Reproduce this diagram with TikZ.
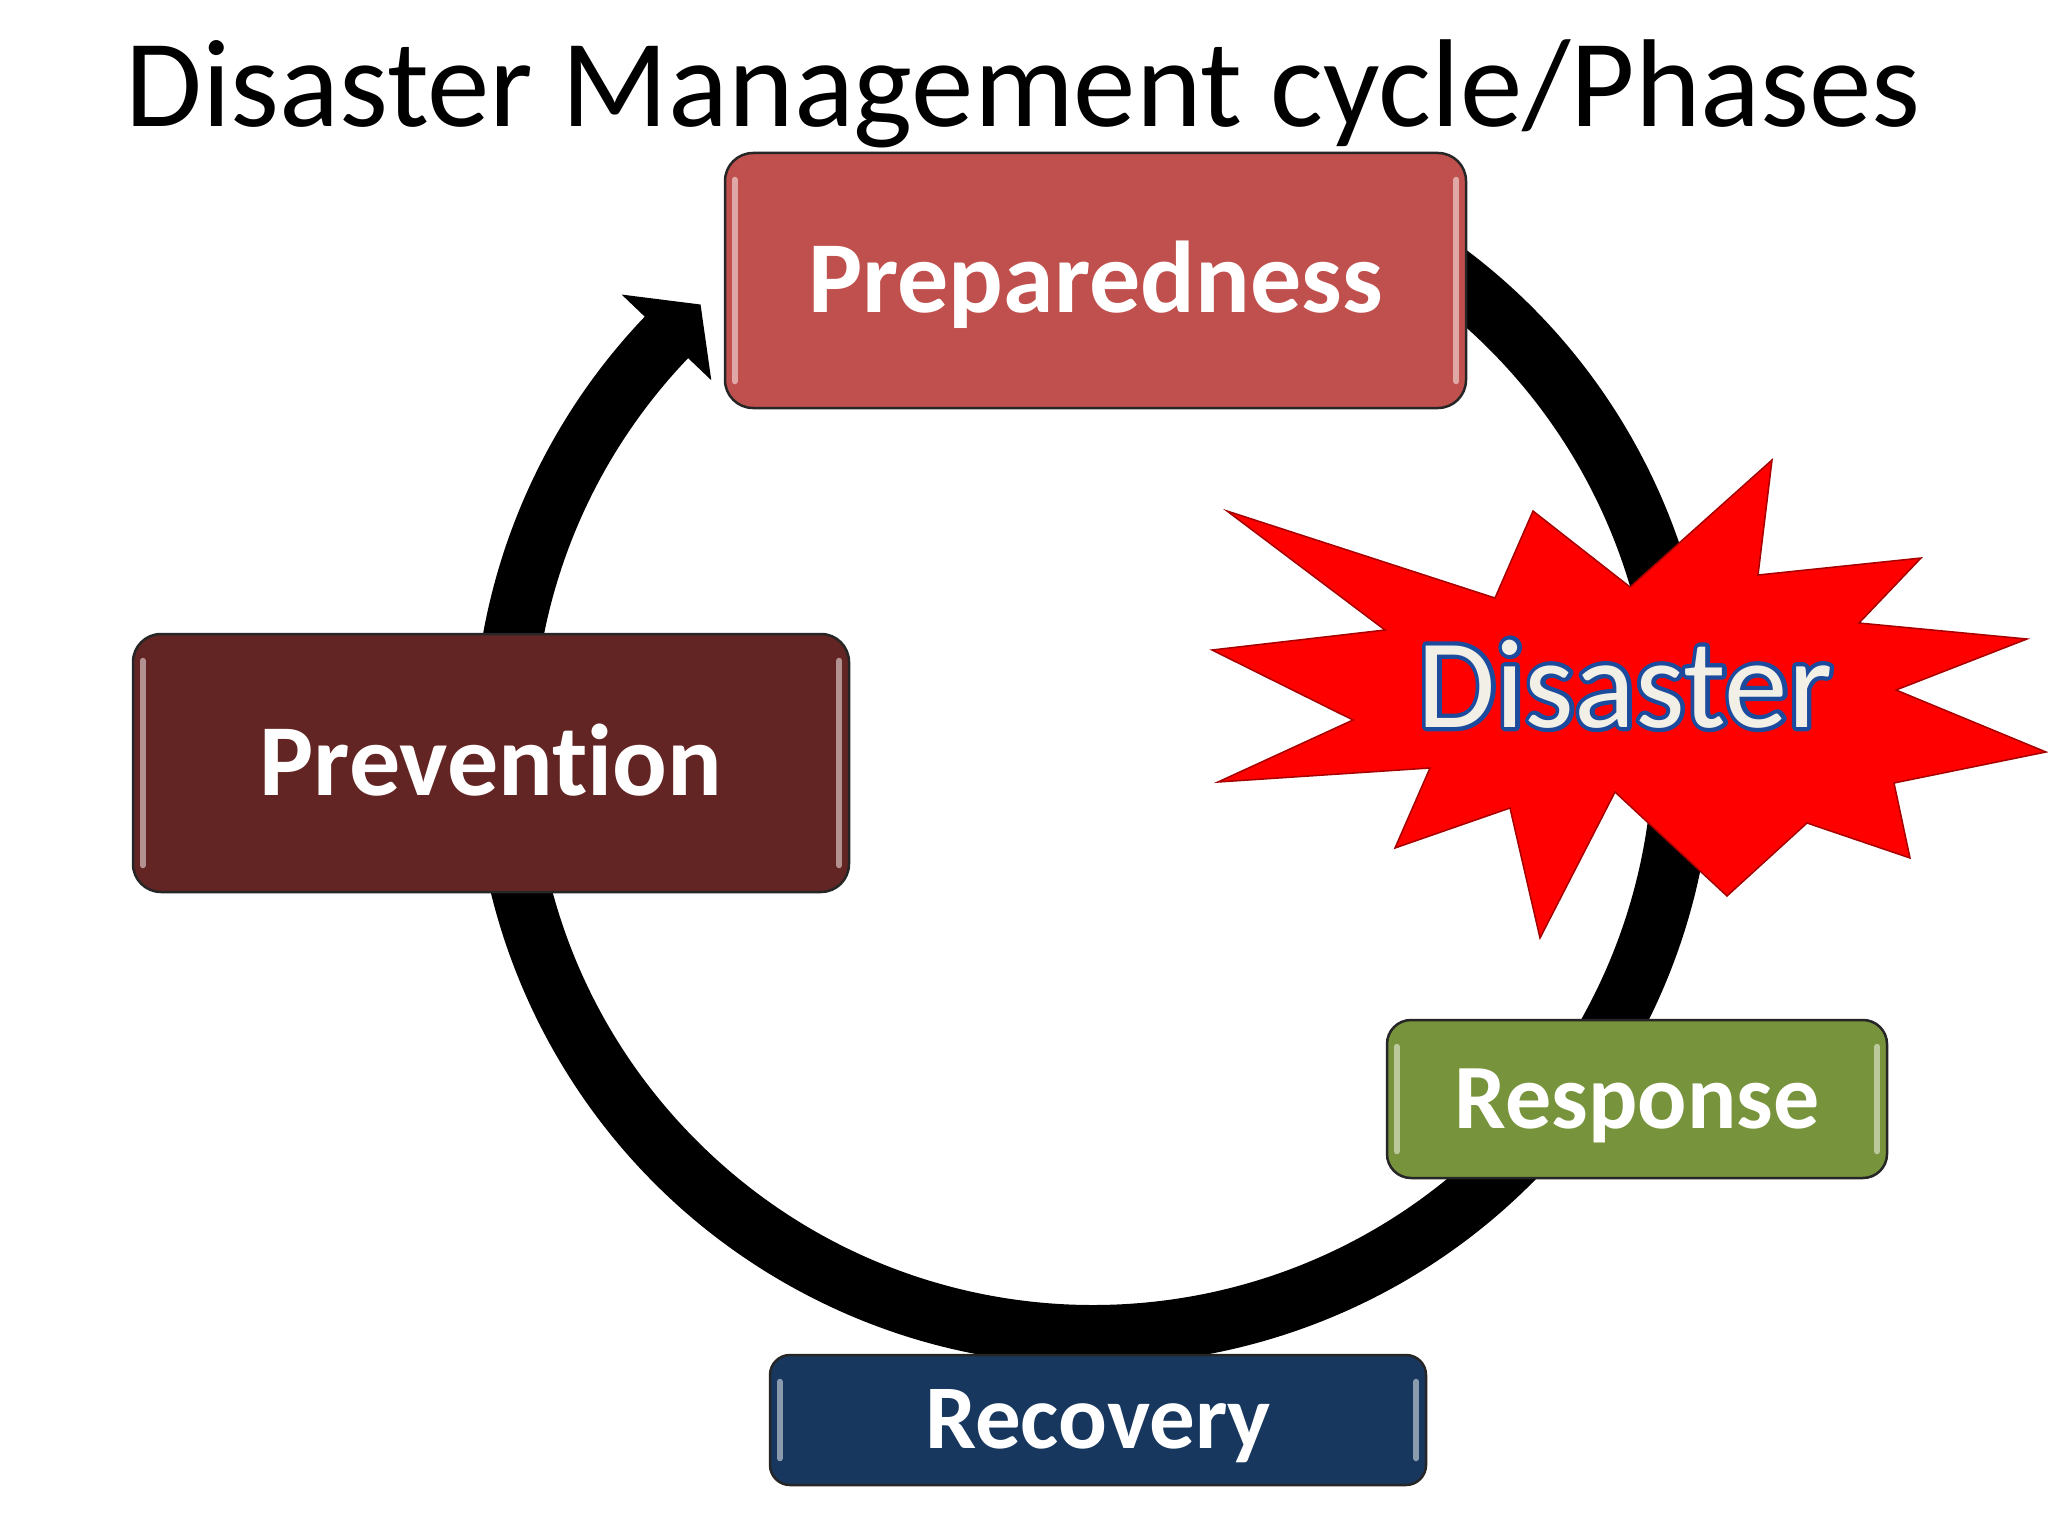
\documentclass[tikz,border=0pt]{standalone}
\usepackage{fontspec}
\setmainfont{Carlito}[Ligatures=NoCommon]
\usetikzlibrary{calc}
\definecolor{prepc}{HTML}{C0504D}
\definecolor{prevc}{HTML}{632523}
\definecolor{respc}{HTML}{77933C}
\definecolor{recoc}{HTML}{17375E}
\definecolor{dblue}{HTML}{1C4A9C}
\definecolor{cream}{HTML}{F2F0E6}
\definecolor{burst}{HTML}{FF0000}
\newcommand\strokedtext[1]{\special{pdf:literal direct 2 Tr 8.5 w 1 j}#1\special{pdf:literal direct 0 Tr 1 w}}
\begin{document}
\begin{tikzpicture}[x=1pt,y=-1pt,
  phase/.style={draw=black!85,line width=2.5pt,text=white,inner sep=0pt,text depth=0pt},
  hl/.style={white,opacity=.5,line width=6pt,line cap=round}]
\fill[white] (0,0) rectangle (2048,1536);
\useasboundingbox (0,0) rectangle (2048,1536);

% title
\node[anchor=base,font=\fontsize{125}{150}\selectfont] (title) at (1023,127) {Disaster Management cycle/Phases};

% cycle ring
\coordinate (ctr) at (1093,745);
\fill[black] ($(ctr)+(-60:620)$) arc[start angle=-60,end angle=224,radius=620]
  -- ($(ctr)+(224:560)$) arc[start angle=224,end angle=-60,radius=560] -- cycle;
\fill[black] ($(ctr)+(223.7:652)$) -- ($(ctr)+(228.3:590)$) -- ($(ctr)+(223.7:528)$) -- cycle;

% phase boxes
\node[phase,fill=prepc,rounded corners=28pt,minimum width=741pt,minimum height=255pt,
  font=\fontsize{102}{122}\selectfont\bfseries,text height=64pt] (prep) at (1095.5,280.5) {Preparedness};
\node[phase,fill=prevc,rounded corners=28pt,minimum width=716pt,minimum height=258pt,
  font=\fontsize{102}{122}\selectfont\bfseries,text height=64pt] (prev) at (491,763) {Prevention};
\node[phase,fill=respc,rounded corners=24pt,minimum width=500pt,minimum height=158pt,
  font=\fontsize{92}{110}\selectfont\bfseries,text height=58pt] (resp) at (1637,1099) {Response};
\node[phase,fill=recoc,rounded corners=20pt,minimum width=656pt,minimum height=130pt,
  font=\fontsize{91}{109}\selectfont\bfseries,text height=57pt] (reco) at (1098,1420) {Recovery};
\foreach \b in {prep,prev,resp,reco}{
  \draw[hl] ([xshift=11pt,yshift=-28pt]\b.north west) -- ([xshift=11pt,yshift=28pt]\b.south west);
  \draw[hl] ([xshift=-11pt,yshift=-28pt]\b.north east) -- ([xshift=-11pt,yshift=28pt]\b.south east);
}

% disaster burst
\filldraw[fill=burst,draw=red!65!black,line width=1.5pt,line join=miter]
  (1227,511) -- (1495,598) -- (1533,511) -- (1630,587) -- (1772,460) -- (1758,575)
  -- (1921,558) -- (1859,623) -- (2027,639) -- (1896,690) -- (2046,752) -- (1894,783)
  -- (1910,858) -- (1807,823) -- (1727,896) -- (1615,792) -- (1540,938) -- (1510,808)
  -- (1395,848) -- (1430,768) -- (1218,782) -- (1353,720) -- (1212,650) -- (1385,630) -- cycle;
\node[anchor=base,inner sep=0pt,font=\fontsize{127}{150}\selectfont] (dis) at (1625,727)
  {\rlap{\textcolor{dblue}{\strokedtext{Disaster}}}\textcolor{cream}{Disaster}};
\end{tikzpicture}
\end{document}
